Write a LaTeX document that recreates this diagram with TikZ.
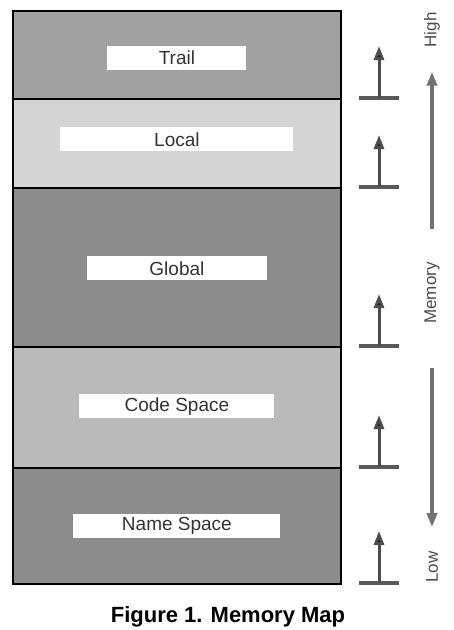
\documentclass[tikz,border=0pt]{standalone}
\usepackage{fontspec}
\setmainfont{Liberation Sans}
\usetikzlibrary{arrows.meta,positioning}

\begin{document}
\begin{tikzpicture}[
    x=1pt, y=-1pt,
    regionnode/.style={draw=black, line width=1.8pt, inner sep=0pt, anchor=north west, minimum width=328pt},
    labelnode/.style={fill=white, text=black!80, font=\fontsize{19}{21}\selectfont, inner sep=0pt, minimum height=24pt},
    sidenode/.style={font=\fontsize{17}{19}\selectfont, text=black!70, rotate=90, inner sep=0pt},
    barline/.style={line width=3.5pt, black!65},
    growarrow/.style={line width=3pt, black!70, -{Triangle[width=10pt,length=14pt,fill=black]}},
    axisarrow/.style={line width=3.5pt, black!55, -{Triangle[width=10pt,length=14pt,fill=black!85]}}
]
\useasboundingbox (0,0) rectangle (454,630);

% Memory regions, top to bottom
\foreach \name/\top/\h/\shade/\lw/\dy/\text in {
    trail/10/88/37/139/3/Trail,
    local/98/89/17/233/-4/Local,
    global/187/159/45/180/1/Global,
    code/346/121/27/195/-1/Code Space,
    name/467/116/45/207/0/Name Space} {
    \node[regionnode, fill=black!\shade, minimum height=\h pt] (\name) at (12,\top) {};
    \node[labelnode, minimum width=\lw pt] (\name lbl) at ([yshift=-\dy pt]\name.center) {\text};
    % growth arrow beside each region
    \coordinate (\name bar) at (379,\top+\h);
    \coordinate (\name tip) at (379,\top+\h-52);
    \draw[barline] ([xshift=-20pt]\name bar) -- ([xshift=20pt]\name bar);
    \draw[growarrow] (\name bar) -- (\name tip);
}

% Address axis
\node[sidenode] (high) at (432,30) {High};
\node[sidenode] (memory) at (432,293) {Memory};
\node[sidenode] (low) at (432,567) {Low};
\draw[axisarrow, shorten <=33pt, shorten >=24pt] (memory.east) -- (high.west);
\draw[axisarrow, shorten <=44pt, shorten >=24pt] (memory.west) -- (low.east);

% Caption
\node[font=\bfseries\fontsize{22}{24}\selectfont, anchor=base] (caption) at (228,622) {Figure 1. Memory Map};

\end{tikzpicture}
\end{document}
